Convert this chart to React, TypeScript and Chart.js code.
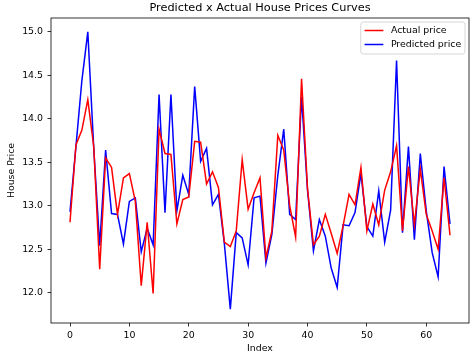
import React, { useEffect, useRef } from 'react';
import { Chart, registerables } from 'chart.js';

Chart.register(...registerables);

const TITLE = 'Predicted x Actual House Prices Curves';
const X_LABEL = 'Index';
const Y_LABEL = 'House Price';
const SERIES_NAMES = ['Actual price', 'Predicted price'];

const actualPrice = [
  12.81, 13.70, 13.87, 14.22, 13.68, 12.27, 13.55, 13.44, 12.90, 13.32,
  13.37, 13.05, 12.08, 12.81, 11.99, 13.88, 13.60, 13.59, 12.79, 13.07,
  13.10, 13.74, 13.73, 13.25, 13.39, 13.21, 12.58, 12.53, 12.71, 13.53,
  12.96, 13.15, 13.32, 12.40, 12.71, 13.81, 13.64, 13.00, 12.64, 14.46,
  13.20, 12.55, 12.65, 12.90, 12.68, 12.45, 12.77, 13.13, 13.01, 13.44,
  12.71, 13.02, 12.78, 13.18, 13.39, 13.69, 12.71, 13.45, 12.78, 13.42,
  12.90, 12.71, 12.50, 13.32, 12.66,
];

const predictedPrice = [
  12.93, 13.68, 14.44, 15.00, 13.66, 12.54, 13.64, 12.91, 12.90, 12.56,
  13.05, 13.09, 12.47, 12.74, 12.55, 14.28, 12.92, 14.28, 12.94, 13.35,
  13.13, 14.37, 13.51, 13.66, 13.01, 13.13, 12.56, 11.81, 12.69, 12.63,
  12.32, 13.09, 13.11, 12.34, 12.67, 13.35, 13.88, 12.90, 12.84, 14.25,
  13.18, 12.48, 12.84, 12.65, 12.28, 12.06, 12.78, 12.77, 12.92, 13.37,
  12.76, 12.65, 13.17, 12.58, 12.95, 14.67, 12.69, 13.68, 12.61, 13.60,
  12.94, 12.46, 12.18, 13.45, 12.79,
];

const xTicks = [0, 10, 20, 30, 40, 50, 60];
const yTicks = [12.0, 12.5, 13.0, 13.5, 14.0, 14.5, 15.0];

const COLORS = ['#ff0000', '#0000ff'];
const FONT = '"DejaVu Sans", sans-serif';

const framePlugin = {
  id: 'mplFrame',
  afterDraw(chart: any) {
    const { ctx, chartArea: ca } = chart;
    ctx.save();
    // axes box
    ctx.strokeStyle = '#000';
    ctx.lineWidth = 0.8;
    ctx.strokeRect(ca.left, ca.top, ca.right - ca.left, ca.bottom - ca.top);
    // title
    ctx.fillStyle = '#000';
    ctx.font = `11.3px ${FONT}`;
    ctx.textAlign = 'center';
    ctx.textBaseline = 'middle';
    ctx.fillText(TITLE, (ca.left + ca.right) / 2, 8);
    // legend
    ctx.font = `9.4px ${FONT}`;
    const tw = Math.max(...SERIES_NAMES.map((n) => ctx.measureText(n).width));
    const w = 3.8 * 2 + 18.8 + 7.5 + tw;
    const h = 32;
    const x0 = ca.right - 4 - w;
    const y0 = ca.top + 4;
    ctx.beginPath();
    if ((ctx as any).roundRect) {
      (ctx as any).roundRect(x0, y0, w, h, 2.5);
    } else {
      ctx.rect(x0, y0, w, h);
    }
    ctx.fillStyle = 'rgba(255,255,255,0.8)';
    ctx.fill();
    ctx.strokeStyle = '#cccccc';
    ctx.lineWidth = 0.8;
    ctx.stroke();
    SERIES_NAMES.forEach((name, i) => {
      const cy = y0 + 8.5 + i * 14;
      ctx.beginPath();
      ctx.strokeStyle = COLORS[i];
      ctx.lineWidth = 1.5;
      ctx.moveTo(x0 + 3.8, cy);
      ctx.lineTo(x0 + 22.6, cy);
      ctx.stroke();
      ctx.fillStyle = '#000';
      ctx.textAlign = 'left';
      ctx.textBaseline = 'middle';
      ctx.fillText(name, x0 + 30.1, cy);
    });
    ctx.restore();
  },
};

export default function App() {
  const canvasRef = useRef<HTMLCanvasElement | null>(null);

  useEffect(() => {
    const canvas = canvasRef.current;
    if (!canvas) return;
    const all = [...actualPrice, ...predictedPrice];
    const yMinData = Math.min(...all);
    const yMaxData = Math.max(...all);
    const yPad = (yMaxData - yMinData) * 0.05;
    const n = actualPrice.length - 1;
    const xPad = n * 0.05;

    const toPts = (arr: number[]) => arr.map((v, i) => ({ x: i, y: v }));

    const tickFont = { family: FONT, size: 9.4 };
    const chart = new Chart(canvas, {
      type: 'line',
      data: {
        datasets: [
          {
            label: SERIES_NAMES[0],
            data: toPts(actualPrice),
            borderColor: COLORS[0],
            backgroundColor: COLORS[0],
            borderWidth: 1.5,
            pointRadius: 0,
            tension: 0,
            fill: false,
          },
          {
            label: SERIES_NAMES[1],
            data: toPts(predictedPrice),
            borderColor: COLORS[1],
            backgroundColor: COLORS[1],
            borderWidth: 1.5,
            pointRadius: 0,
            tension: 0,
            fill: false,
          },
        ],
      },
      options: {
        animation: false,
        responsive: true,
        maintainAspectRatio: false,
        layout: { padding: { left: 0, right: 5, top: 18, bottom: 0 } },
        plugins: {
          legend: { display: false },
          title: { display: false },
          tooltip: { enabled: false },
        },
        scales: {
          x: {
            type: 'linear',
            min: -xPad,
            max: n + xPad,
            afterBuildTicks: (scale: any) => {
              scale.ticks = xTicks.map((v) => ({ value: v }));
            },
            afterFit: (scale: any) => {
              scale.height = 32;
            },
            ticks: {
              font: tickFont,
              color: '#000',
              padding: 3,
              maxRotation: 0,
              autoSkip: false,
              callback: (v: any) => String(v),
            },
            grid: {
              display: true,
              drawOnChartArea: false,
              drawTicks: true,
              tickLength: 3.5,
              color: '#000',
              lineWidth: 0.8,
            },
            border: { display: false },
            title: {
              display: true,
              text: X_LABEL,
              font: { family: FONT, size: 9.4 },
              color: '#000',
              padding: { top: 0, bottom: 1 },
            },
          },
          y: {
            type: 'linear',
            min: yMinData - yPad,
            max: yMaxData + yPad,
            afterBuildTicks: (scale: any) => {
              scale.ticks = yTicks.map((v) => ({ value: v }));
            },
            afterFit: (scale: any) => {
              scale.width = 51;
            },
            ticks: {
              font: tickFont,
              color: '#000',
              padding: 4.5,
              autoSkip: false,
              callback: (v: any) => Number(v).toFixed(1),
            },
            grid: {
              display: true,
              drawOnChartArea: false,
              drawTicks: true,
              tickLength: 3.5,
              color: '#000',
              lineWidth: 0.8,
            },
            border: { display: false },
            title: {
              display: true,
              text: Y_LABEL,
              font: { family: FONT, size: 9.4 },
              color: '#000',
              padding: { top: 6, bottom: 0 },
            },
          },
        },
      },
      plugins: [framePlugin],
    });

    return () => {
      chart.destroy();
    };
  }, []);

  return (
    <div
      style={{
        position: 'fixed',
        left: 0,
        top: 0,
        width: 474,
        height: 355,
        background: '#fff',
      }}
    >
      <canvas ref={canvasRef} />
    </div>
  );
}
